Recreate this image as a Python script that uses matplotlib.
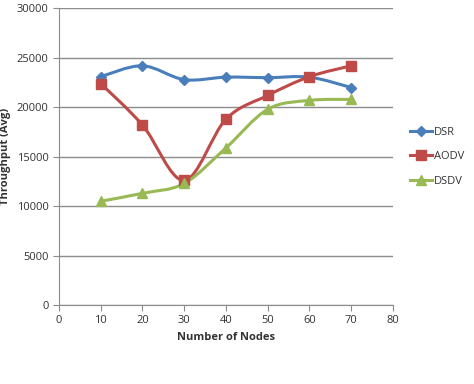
import numpy as np
import matplotlib
matplotlib.use("Agg")
import matplotlib.pyplot as plt
from matplotlib.path import Path
from matplotlib.patches import PathPatch

# data
nodes = [10, 20, 30, 40, 50, 60, 70]
dsr = [23100, 24200, 22800, 23050, 23000, 23050, 22000]
aodv = [22400, 18200, 12600, 18800, 21200, 23100, 24200]
dsdv = [10500, 11300, 12300, 15900, 19800, 20700, 20800]
series = [("DSR", dsr, "#4A7EBB", "D", 5),
          ("AODV", aodv, "#BE4B48", "s", 7),
          ("DSDV", dsdv, "#98B954", "^", 7)]


def smooth_path(x, y):
    # Excel-like smoothed line: cubic Bezier segments through the points
    pts = np.column_stack([x, y]).astype(float)
    verts = [pts[0]]
    codes = [Path.MOVETO]
    n = len(pts)
    for i in range(n - 1):
        p0 = pts[i - 1] if i > 0 else pts[i]
        p1, p2 = pts[i], pts[i + 1]
        p3 = pts[i + 2] if i + 2 < n else pts[i + 1]
        c1 = p1 + (p2 - p0) / 6
        c2 = p2 - (p3 - p1) / 6
        verts += [c1, c2, p2]
        codes += [Path.CURVE4] * 3
    return Path(verts, codes)


plt.rcParams['font.family'] = ['Open Sans', 'DejaVu Sans']
fig = plt.figure(figsize=(4.74, 3.84), dpi=100)
ax = fig.add_axes([0.1245, 0.2057, 0.7045, 0.7723])

for name, vals, color, marker, ms in series:
    ax.add_patch(PathPatch(smooth_path(nodes, vals), fill=False,
                           edgecolor=color, lw=2.2, zorder=3))
    ax.plot(nodes, vals, linestyle="none", marker=marker, color=color,
            markersize=ms, zorder=4)
    # legend handle
    ax.plot([], [], color=color, lw=2.2, marker=marker, markersize=ms, label=name)

ax.set_xlim(0, 80)
ax.set_ylim(0, 30000)
ax.set_xticks(range(0, 81, 10))
ax.set_yticks(range(0, 30001, 5000))
ax.yaxis.grid(True, color="#8c8c8c", lw=1)
ax.set_axisbelow(True)
for s in ["top", "right"]:
    ax.spines[s].set_visible(False)
for s in ["left", "bottom"]:
    ax.spines[s].set_color("#8c8c8c")
ax.tick_params(axis="both", colors="#8c8c8c", labelcolor="#333333",
               labelsize=8, length=4)
ax.set_xlabel("Number of Nodes", fontsize=8, fontweight="bold", color="#333333")
ax.set_ylabel("Throughput (Avg)", fontsize=8, fontweight="bold", color="#333333")

leg = ax.legend(loc="center left", bbox_to_anchor=(1.02, 0.5), frameon=False,
                fontsize=8, handlelength=2.0, handletextpad=0.2, labelspacing=1.2)
for t in leg.get_texts():
    t.set_color("#333333")

fig.savefig("out.png", dpi=100)
